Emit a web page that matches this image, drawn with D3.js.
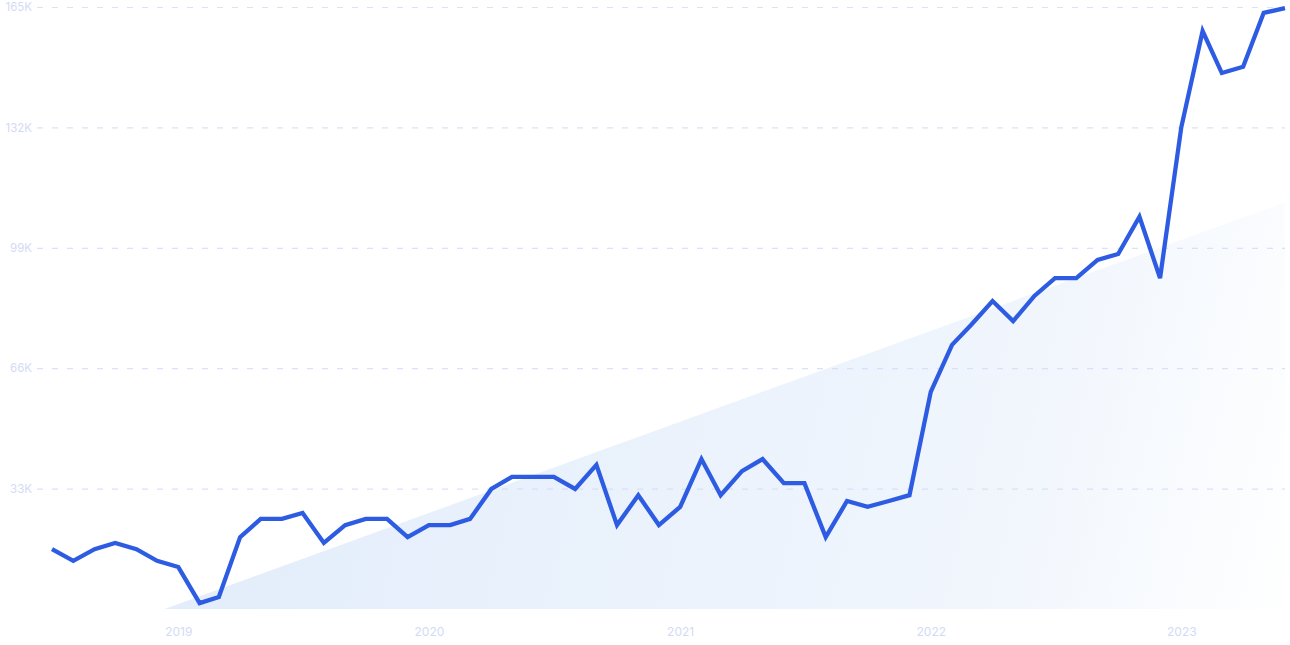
<!DOCTYPE html>
<html>
<head>
<meta charset="utf-8">
<script src="https://cdn.jsdelivr.net/npm/d3@7"></script>
<style>
  html, body { margin: 0; padding: 0; background: #fff; }
  svg { display: block; font-family: Inter, "Noto Sans", sans-serif; }
</style>
</head>
<body>
<svg id="chart"></svg>
<script>
// monthly values (thousands), Jul 2018 .. Jun 2023
var startMonth = "2018-07-01";
var values = [
  16.4, 13.2, 16.4, 18.1, 16.4, 13.2,
  11.5, 1.6, 3.3, 19.7, 24.7, 24.7, 26.3, 18.1, 23.0, 24.7, 24.7, 19.7,
  23.0, 23.0, 24.7, 32.9, 36.2, 36.2, 36.2, 32.9, 39.5, 23.0, 31.2, 23.0,
  28.0, 41.1, 31.2, 37.8, 41.1, 34.5, 34.5, 19.7, 29.6, 28.0, 29.6, 31.2,
  59.5, 72.4, 77.9, 84.4, 78.9, 85.8, 90.7, 90.7, 95.7, 97.3, 107.5, 90.7,
  132.1, 158.4, 146.9, 148.6, 163.4, 164.7
];
// trend band drawn under the line
var trendDates = ["2018-12-12", "2023-06-01"];
var trendValues = [0, 111.5];
var yTicks = [33, 66, 99, 132, 165];
var yearTicks = ["2019", "2020", "2021", "2022", "2023"];

var width = 1290, height = 645;
var parse = d3.timeParse("%Y-%m-%d");

var t0 = parse(startMonth);
var data = values.map(function(v, i) {
  return { date: d3.timeMonth.offset(t0, i), value: v };
});
var trend = trendDates.map(function(d, i) {
  return { date: parse(d), value: trendValues[i] };
});

var x = d3.scaleTime()
  .domain([data[0].date, data[data.length - 1].date])
  .range([52, 1285]);
var y = d3.scaleLinear().domain([0, 165]).range([609, 7]);

var svg = d3.select("#chart").attr("width", width).attr("height", height);

var defs = svg.append("defs");
var grad = defs.append("linearGradient")
  .attr("id", "areaGrad")
  .attr("gradientUnits", "userSpaceOnUse")
  .attr("x1", 300).attr("y1", 400)
  .attr("x2", 1290).attr("y2", 640);
grad.append("stop").attr("offset", "0%").attr("stop-color", "#e4eefb");
grad.append("stop").attr("offset", "70%").attr("stop-color", "#f1f6fd");
grad.append("stop").attr("offset", "100%").attr("stop-color", "#ffffff");

// trend area
var area = d3.area()
  .x(function(d) { return x(d.date); })
  .y0(y(0))
  .y1(function(d) { return y(d.value); });
svg.append("path")
  .datum(trend)
  .attr("d", area)
  .attr("fill", "url(#areaGrad)");

// gridlines + y labels
var yAxis = d3.axisLeft(y)
  .tickValues(yTicks)
  .tickSize(-(1285 - 37))
  .tickPadding(5)
  .tickFormat(function(d) { return d + "K"; });
var gy = svg.append("g")
  .attr("transform", "translate(37,0)")
  .call(yAxis);
gy.select(".domain").remove();
gy.selectAll(".tick line")
  .attr("stroke", "#d2ddf8")
  .attr("stroke-opacity", 0.85)
  .attr("stroke-width", 1.2)
  .attr("stroke-dasharray", "6 9");
gy.selectAll(".tick text")
  .attr("fill", "#d3dbf4")
  .attr("font-size", 11.5)
  .attr("font-family", "Inter, sans-serif");

// x axis year labels
var xAxis = d3.axisBottom(x)
  .tickValues(yearTicks.map(function(s) { return parse(s + "-01-01"); }))
  .tickSize(0)
  .tickPadding(0)
  .tickFormat(d3.timeFormat("%Y"));
var gx = svg.append("g")
  .attr("transform", "translate(0,627.5)")
  .call(xAxis);
gx.select(".domain").remove();
gx.selectAll(".tick text")
  .attr("fill", "#d3dbf4")
  .attr("font-size", 12)
  .attr("font-family", "Inter, sans-serif");

// the line
var line = d3.line()
  .x(function(d) { return x(d.date); })
  .y(function(d) { return y(d.value); });
svg.append("path")
  .datum(data)
  .attr("d", line)
  .attr("fill", "none")
  .attr("stroke", "#2d5ce3")
  .attr("stroke-width", 4.3)
  .attr("stroke-linejoin", "miter")
  .attr("stroke-linecap", "butt");
</script>
</body>
</html>
